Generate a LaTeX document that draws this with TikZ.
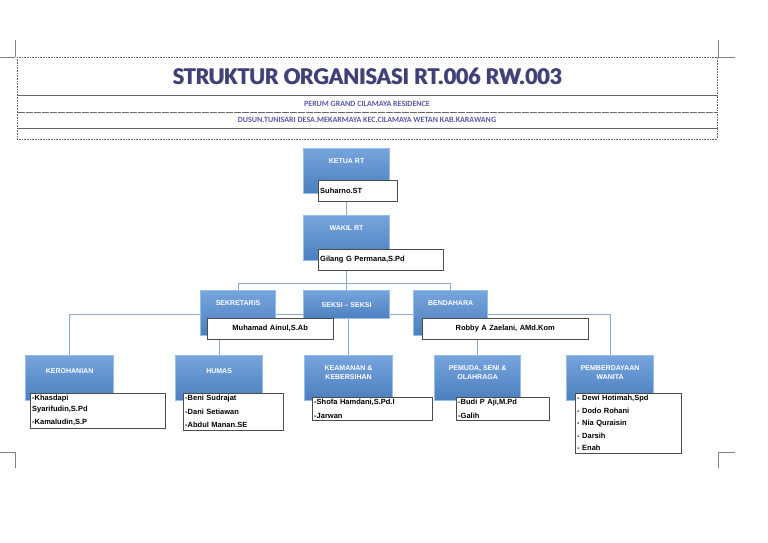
\documentclass[tikz,border=0pt]{standalone}
\usepackage{fontspec}
\setmainfont{Liberation Sans}
\newfontfamily\titlefont{Carlito}
\usetikzlibrary{backgrounds}
\definecolor{bmid}{RGB}{84,141,212}
\definecolor{blite}{RGB}{150,190,235}
\definecolor{lnc}{RGB}{140,170,200}
\begin{document}
\begin{tikzpicture}[x=1pt,y=-1pt,
  bluebox/.style={draw=blite,line width=1.2pt,top color=bmid!80!white,bottom color=bmid!90!black,
     minimum width=86pt,minimum height=45pt,text=white,font=\bfseries\fontsize{7}{9}\selectfont,align=center,anchor=north west,inner sep=1pt},
  namebox/.style={draw=black!70,fill=white,font=\bfseries\fontsize{7.5}{10.5}\selectfont,align=left,anchor=north west,inner sep=2pt,text width=#1,minimum height=21pt},
  namebox/.default=60pt,
  conn/.style={draw=lnc,line width=1pt},
  frame/.style={draw=black!60,densely dotted,line width=0.6pt},
  cornermark/.style={draw=black!50,line width=0.4pt}]
\useasboundingbox (0,0) rectangle (768,543);
\draw[cornermark] (0,57)--(15,57) (15,40)--(15,57);
\draw[cornermark] (718,57)--(735,57) (718,40)--(718,57);
\draw[cornermark] (0,452)--(15,452) (15,452)--(15,468);
\draw[cornermark] (718,452)--(735,452) (718,452)--(718,468);
\draw[frame] (17,57) rectangle (717,95);
\draw[frame] (17,95) rectangle (717,112);
\draw[frame] (17,112) rectangle (717,128);
\draw[frame] (17,128) rectangle (717,139);
\node[font=\titlefont\bfseries\fontsize{24}{26}\selectfont,text=black!50!blue!30!gray] at (367.8,76.8) {STRUKTUR ORGANISASI RT.006 RW.003};
\node[font=\titlefont\bfseries\fontsize{24}{26}\selectfont,text=blue!30!black!75] (title) at (367,76) {STRUKTUR ORGANISASI RT.006 RW.003};
\node[font=\titlefont\bfseries\fontsize{8}{9}\selectfont,text=blue!30!gray] (sub1) at (367,103.5) {PERUM GRAND CILAMAYA RESIDENCE};
\node[font=\titlefont\bfseries\fontsize{8}{9}\selectfont,text=blue!30!gray] (sub2) at (367,120) {DUSUN.TUNISARI DESA.MEKARMAYA KEC.CILAMAYA WETAN KAB.KARAWANG};
\node[bluebox] (ketua) at (303,148) {KETUA RT\\[12pt]};
\node[bluebox] (wakil) at (303,215) {WAKIL RT\\[12pt]};
\node[bluebox,minimum width=75pt] (sek) at (200,290) {SEKRETARIS\\[12pt]};
\node[bluebox,minimum height=28pt] (seksi) at (303,290) {SEKSI -- SEKSI};
\node[bluebox,minimum width=74pt] (bend) at (413,290) {BENDAHARA\\[12pt]};
\node[bluebox,minimum width=88pt] (roh) at (25,355) {KEROHANIAN\\[6pt]};
\node[bluebox,minimum width=87pt] (humas) at (175,355) {HUMAS\\[6pt]};
\node[bluebox,minimum width=88pt] (keam) at (304,355) {KEAMANAN \&\\KEBERSIHAN\\[3pt]};
\node[bluebox,minimum width=86pt] (pem) at (434,355) {PEMUDA, SENI \&\\OLAHRAGA\\[3pt]};
\node[bluebox,minimum width=87pt] (wan) at (566,355) {PEMBERDAYAAN\\WANITA\\[3pt]};
\node[namebox=75pt] (n1) at (318,180) {Suharno.ST};
\node[namebox=121pt] (n2) at (318,249) {Gilang G Permana,S.Pd};
\node[namebox=122pt] (n3) at (207,318) {\hfil Muhamad Ainul,S.Ab};
\node[namebox=162pt] (n4) at (422,318) {\hfil Robby A Zaelani, AMd.Kom};
\node[namebox=131pt] (n5) at (30,393) {-Khasdapi\\Syarifudin,S.Pd\\[3pt]-Kamaludin,S.P};
\node[namebox=96pt] (n6) at (183,393) {-Beni Sudrajat\\[3pt]-Dani Setiawan\\[3pt]-Abdul Manan.SE};
\node[namebox=116pt] (n7) at (312,397) {-Shofa Hamdani,S.Pd.I\\[3pt]-Jarwan\\[2pt]};
\node[namebox=89pt] (n8) at (456,397) {-Budi P Aji,M.Pd\\[3pt]-Galih\\[2pt]};
\node[namebox=102pt] (n9) at (575,393) {\\[-5pt]- Dewi Hotimah,Spd\\[2pt]- Dodo Rohani\\[2pt]- Nia Quraisin\\[2pt]- Darsih\\[2pt]- Enah\\[-3pt]};
\begin{pgfonlayer}{background}
\draw[conn] (ketua.south) -- (wakil.north);
\draw[conn] (wakil.south) -- ++(0,22) coordinate (j1);
\draw[conn] (sek.north) |- (j1) -| (bend.north);
\draw[conn] (j1) -- (seksi.north);
\coordinate (j2) at ([yshift=-53pt]wakil.south);
\draw[conn] (seksi.south) -- (j2);
\draw[conn] (roh.north) |- (j2) -| (wan.north);
\draw[conn] (humas.north) |- (j2);
\draw[conn] (keam.north) |- (j2);
\draw[conn] (pem.north) |- (j2);
\end{pgfonlayer}
\end{tikzpicture}
\end{document}
